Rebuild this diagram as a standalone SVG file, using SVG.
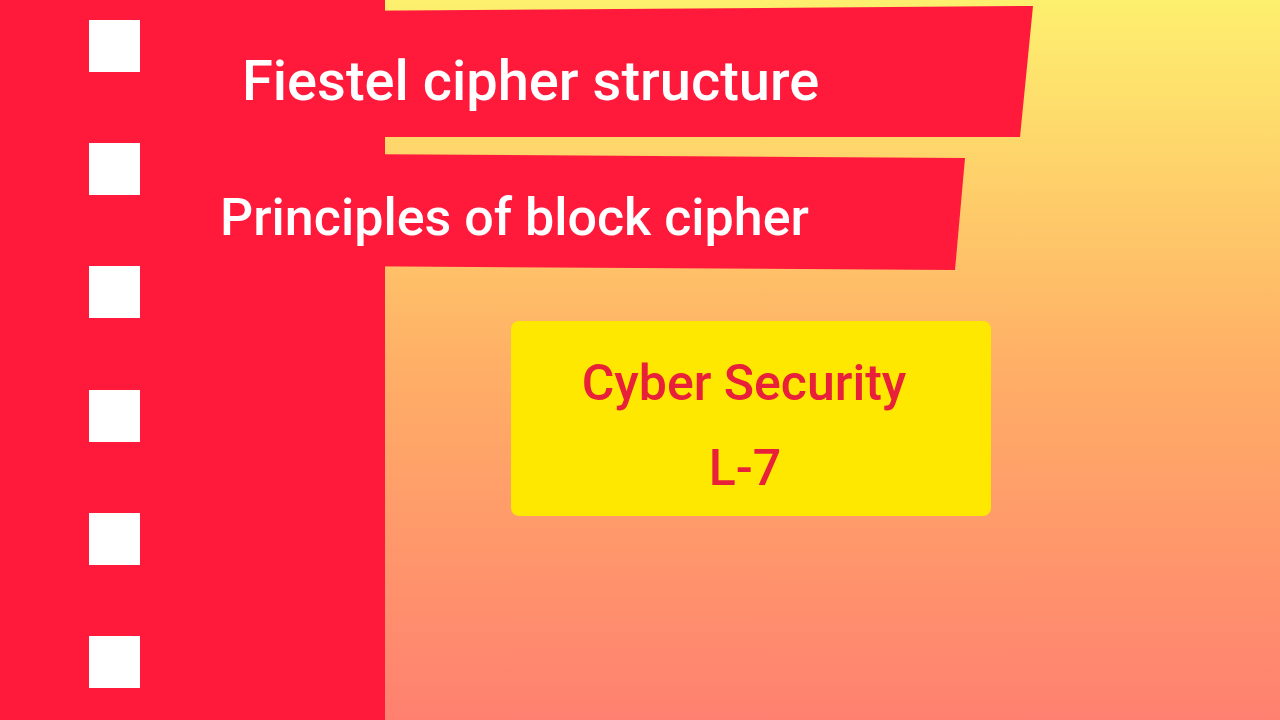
<svg xmlns="http://www.w3.org/2000/svg" width="1280" height="720" viewBox="0 0 1280 720">
<defs>
<linearGradient id="bg" x1="0" y1="0" x2="0" y2="1">
<stop offset="0" stop-color="#FDF06E"/>
<stop offset="0.5" stop-color="#FFB066"/>
<stop offset="1" stop-color="#FF8070"/>
</linearGradient>
<style>
.sq{fill:#FFFFFF}
.ban{fill:#FF1A3C}
.t{font-family:Roboto,"Liberation Sans",sans-serif;font-weight:500;fill:#FFFFFF}
.r{font-family:Roboto,"Liberation Sans",sans-serif;font-weight:500;fill:#E8203A;font-size:50px}
</style>
</defs>
<rect width="1280" height="720" fill="url(#bg)"/>
<rect x="0" y="0" width="385" height="720" fill="#FF1A3C"/>
<g id="squares">
<rect class="sq" x="89" y="20" width="51" height="52"/>
<rect class="sq" x="89" y="143" width="51" height="52"/>
<rect class="sq" x="89" y="266" width="51" height="52"/>
<rect class="sq" x="89" y="390" width="51" height="52"/>
<rect class="sq" x="89" y="513" width="51" height="52"/>
<rect class="sq" x="89" y="636" width="51" height="52"/>
</g>
<g id="banner1">
<polygon class="ban" points="192,12 1033,6 1020,137 190,137" fill="#FF1A3C"/>
<text class="t" x="242" y="100" font-size="56">Fiestel cipher structure</text>
</g>
<g id="banner2">
<polygon class="ban" points="180,153 965,158 955,270 175,265"/>
<text class="t" x="220" y="235" font-size="52">Principles of block cipher</text>
</g>
<g id="box">
<rect x="511" y="321" width="480" height="195" rx="8" fill="#FFE800"/>
<text class="r" x="744" y="400" text-anchor="middle">Cyber Security</text>
<text class="r" x="745" y="485" text-anchor="middle">L-7</text>
</g>
</svg>
